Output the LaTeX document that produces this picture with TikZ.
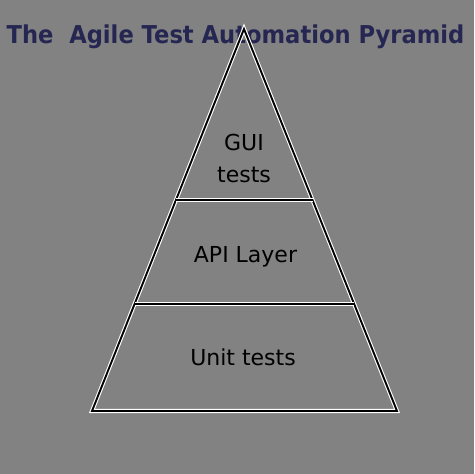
\documentclass[tikz,border=0pt]{standalone}
\usepackage{fontspec}
\setmainfont{DejaVu Sans}
\usetikzlibrary{calc}
\definecolor{bggray}{RGB}{130,130,130}
\definecolor{titlenavy}{RGB}{38,38,82}

\begin{document}
\begin{tikzpicture}[x=0.5pt, y=-0.5pt,
  edge/.style={draw=white, double=black, line width=0.55pt, double distance=0.95pt},
  layer/.style={inner sep=0pt, font=\fontsize{11}{16}\selectfont, text=black, align=center}]
  \fill[bggray] (0,0) rectangle (474,474);
  \node[anchor=base, inner sep=0pt, text=titlenavy, font=\bfseries\fontsize{12.3}{14}\selectfont] (title) at (235.5,44) {\scalebox{0.92}[1]{The~~Agile Test Automation Pyramid}};
  \coordinate (apex) at (244,29);
  \coordinate (bl) at (92,411);
  \coordinate (br) at (397,411);
  \foreach \f [count=\i] in {0.448,0.72} {
    \coordinate (l\i) at ($(apex)!\f!(bl)$);
    \coordinate (r\i) at ($(apex)!\f!(br)$);
  }
  \draw[edge] (apex) -- (br) -- (bl) -- cycle;
  \draw[edge] (l1) -- (r1);
  \draw[edge] (l2) -- (r2);
  \node[layer] (gui) at (244,158) {GUI\\tests};
  \node[layer, anchor=base] (api) at (245.5,263) {API Layer};
  \node[layer, anchor=base] (unit) at (243,365) {Unit tests};
\end{tikzpicture}
\end{document}
